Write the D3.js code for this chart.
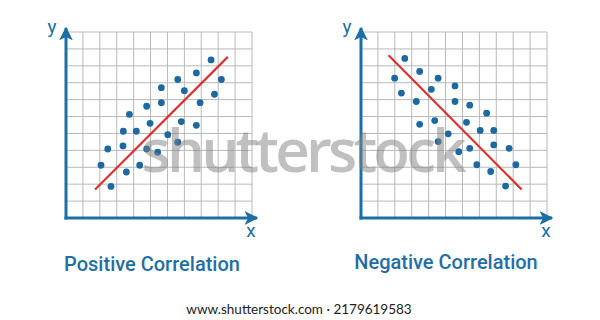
<!DOCTYPE html>
<meta charset="utf-8">
<style>
body { margin: 0; background: #fff; }
.grid line { stroke: #b9b9b9; stroke-width: 1px; }
.axis { stroke: #1c6ea4; stroke-width: 3px; fill: none; }
.title { font-family: Roboto, sans-serif; font-weight: 500; fill: #1f6fa3; text-anchor: middle; }
.lab { font-family: Roboto, sans-serif; fill: #1c6ea4; text-anchor: middle; font-size: 19px; }
</style>
<body>
<script src="https://d3js.org/d3.v7.min.js"></script>
<script>

// scatter points, in grid units (0..11)
var posX = [2.07, 2.47, 2.66, 3.39, 3.37, 3.57, 3.75, 4.16, 4.36, 4.77, 4.77, 4.97, 5.42,
            5.64, 5.64, 6.02, 6.61, 6.61, 6.82, 7.00, 7.71, 7.71, 7.93, 8.58, 8.78, 9.19];
var posY = [3.12, 4.08, 1.87, 5.13, 4.26, 2.72, 6.13, 5.13, 3.12, 6.61, 4.08, 5.60, 3.89,
            7.71, 6.82, 4.93, 8.19, 4.48, 5.70, 7.53, 8.58, 5.48, 6.82, 9.35, 7.32, 8.19];
var negX = [2.59, 1.99, 2.39, 3.47, 3.27, 4.56, 4.16, 3.47, 4.36, 4.56, 5.16, 5.56, 5.56,
            5.78, 6.24, 6.43, 6.43, 6.85, 7.05, 7.43, 7.85, 7.85, 7.67, 8.76, 9.16, 8.55];
var negY = [9.44, 8.27, 7.39, 8.67, 6.89, 8.27, 7.61, 5.54, 5.76, 4.52, 4.98, 7.81, 6.89,
            3.92, 5.66, 6.67, 4.12, 3.15, 5.18, 6.20, 5.18, 4.32, 2.75, 4.12, 3.15, 1.89];

// trend lines [x0, y0, x1, y1]
var posLine = [1.72, 1.68, 9.57, 9.53];
var negLine = [1.63, 9.62, 9.50, 1.69];

var gridTicks = [0, 1, 2, 3, 4, 5, 6, 7, 8, 9, 10, 11];
var titles = ["Positive Correlation", "Negative Correlation"];

var W = 600, H = 320;
var svg = d3.select("body").append("svg")
    .attr("width", W)
    .attr("height", H);

var defs = svg.append("defs");
defs.append("marker")
    .attr("id", "arrow")
    .attr("viewBox", "0 0 10 10")
    .attr("refX", 9)
    .attr("refY", 5)
    .attr("markerWidth", 4.6)
    .attr("markerHeight", 4.6)
    .attr("markerUnits", "strokeWidth")
    .attr("orient", "auto")
  .append("path")
    .attr("d", "M0,0 L10,5 L0,10 L2.5,5 Z")
    .attr("fill", "#1c6ea4");

function panel(left, xs, ys, ln, title, titleX, titleY) {
  var x = d3.scaleLinear().domain([0, 11]).range([left, left + 186]);
  var y = d3.scaleLinear().domain([0, 11]).range([218, 32]);
  var g = svg.append("g");

  // grid
  var grid = g.append("g").attr("class", "grid");
  grid.selectAll(".v").data(gridTicks).enter().append("line")
      .attr("x1", function(d) { return x(d); })
      .attr("x2", function(d) { return x(d); })
      .attr("y1", y(0)).attr("y2", y(11));
  grid.selectAll(".h").data(gridTicks).enter().append("line")
      .attr("y1", function(d) { return y(d); })
      .attr("y2", function(d) { return y(d); })
      .attr("x1", x(0)).attr("x2", x(11));

  // axes with arrows
  g.append("line").attr("class", "axis")
      .attr("x1", x(0)).attr("y1", y(0) + 1.5)
      .attr("x2", x(0)).attr("y2", y(11) - 4)
      .attr("marker-end", "url(#arrow)");
  g.append("line").attr("class", "axis")
      .attr("x1", x(0) - 1.5).attr("y1", y(0))
      .attr("x2", x(11) + 5).attr("y2", y(0))
      .attr("marker-end", "url(#arrow)");

  g.append("text").attr("class", "lab")
      .attr("x", x(0) - 14).attr("y", y(11) + 1)
      .text("y");
  g.append("text").attr("class", "lab")
      .attr("x", x(11) - 1).attr("y", y(0) + 19)
      .text("x");

  // dots
  g.selectAll("circle").data(xs).enter().append("circle")
      .attr("cx", function(d) { return x(d); })
      .attr("cy", function(d, i) { return y(ys[i]); })
      .attr("r", 3.4)
      .attr("fill", "#1b69a0");

  // trend line
  g.append("line")
      .attr("x1", x(ln[0])).attr("y1", y(ln[1]))
      .attr("x2", x(ln[2])).attr("y2", y(ln[3]))
      .attr("stroke", "#d8342f")
      .attr("stroke-width", 2.2);

  g.append("text").attr("class", "title")
      .attr("x", titleX).attr("y", titleY)
      .style("font-size", "20px")
      .text(title);
}

panel(66, posX, posY, posLine, titles[0], 152, 270.5);
panel(361, negX, negY, negLine, titles[1], 446, 268.5);

// watermark
svg.append("text")
    .attr("x", 304).attr("y", 172)
    .attr("text-anchor", "middle")
    .style("font-family", "'Open Sans', sans-serif")
    .style("font-weight", 600)
    .style("font-size", "60px")
    .attr("textLength", 325)
    .attr("fill", "rgba(130,130,130,0.5)")
    .text("shutterstock");

svg.append("text")
    .attr("x", 299).attr("y", 314)
    .attr("text-anchor", "middle")
    .style("font-family", "Lato, sans-serif")
    .style("font-size", "13.5px")
    .attr("fill", "#222")
    .text("www.shutterstock.com \u00b7 2179619583");

</script>
</body>
